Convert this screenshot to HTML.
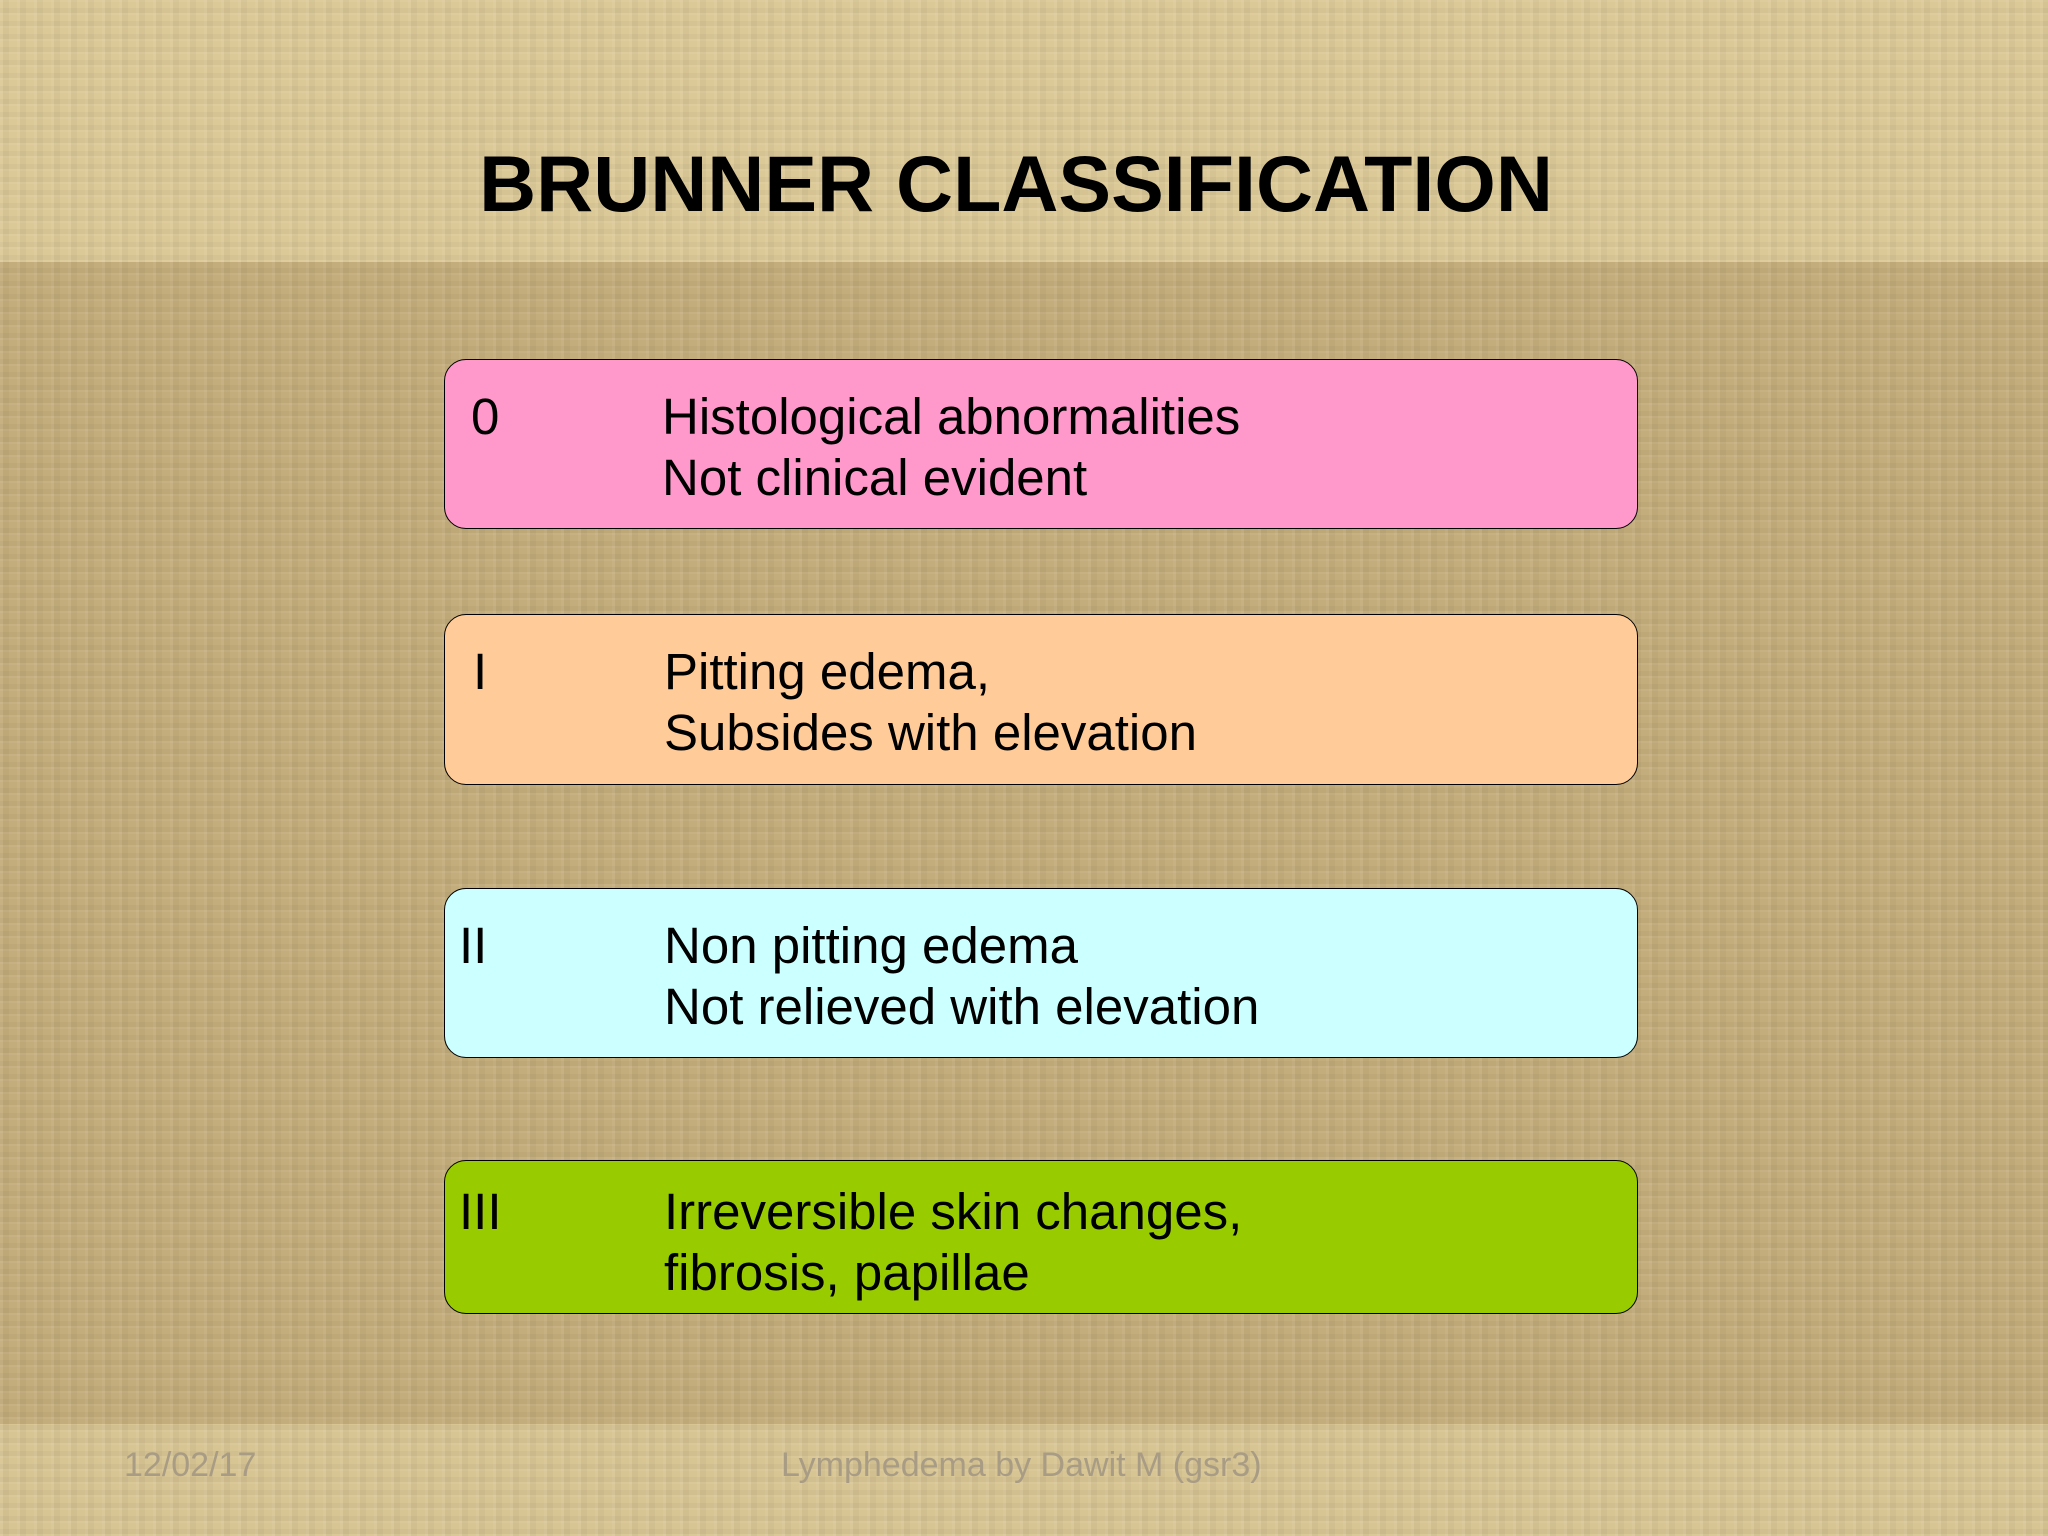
<!DOCTYPE html>
<html><head><meta charset="utf-8"><style>
html,body{margin:0;padding:0}
body{width:2048px;height:1536px;position:relative;overflow:hidden;font-family:"Liberation Sans",Arial,sans-serif;
background:#c4ad7c;}
.band{position:absolute;left:0;width:2048px}
.top{top:0;height:262px;background:#dcc998}
.bot{top:1424px;height:112px;background:#d8c594}
.tex{position:absolute;left:0;top:0;width:2048px;height:1536px;
background-image:repeating-linear-gradient(90deg,rgba(255,255,255,0.05) 0 3px,rgba(0,0,0,0.03) 3px 9px,rgba(255,255,255,0) 9px 17px),
repeating-linear-gradient(0deg,rgba(255,255,255,0.05) 0 2px,rgba(0,0,0,0.03) 2px 7px,rgba(255,255,255,0) 7px 13px);}
h1{position:absolute;left:0;width:2032px;text-align:center;top:134px;margin:0;font-size:79px;font-weight:bold;color:#000;line-height:100px}
.box{position:absolute;left:444px;width:1194px;border:1.5px solid #000;border-radius:22px;box-sizing:border-box}
.lab{position:absolute;font-size:51px;line-height:61px}
.desc{position:absolute;left:218px;font-size:51px;line-height:61px}
.f{position:absolute;top:1446px;font-size:34px;color:#a89c84}
</style></head><body>
<div class="band top"></div><div class="band bot"></div><div class="tex"></div>
<h1>BRUNNER CLASSIFICATION</h1>
<div class="box" style="top:359px;height:170px;background:#ff99cc">
 <div class="lab" style="left:26px;top:26px">0</div>
 <div class="desc" style="left:217px;top:26px">Histological abnormalities<br>Not clinical evident</div></div>
<div class="box" style="top:614px;height:171px;background:#ffcc99">
 <div class="lab" style="left:28px;top:26px">I</div>
 <div class="desc" style="left:219px;top:26px">Pitting edema,<br>Subsides with elevation</div></div>
<div class="box" style="top:888px;height:170px;background:#ccffff">
 <div class="lab" style="left:14px;top:26px">II</div>
 <div class="desc" style="left:219px;top:26px">Non pitting edema<br>Not relieved with elevation</div></div>
<div class="box" style="top:1160px;height:154px;background:#99cc00">
 <div class="lab" style="left:14px;top:20px">III</div>
 <div class="desc" style="left:219px;top:20px">Irreversible skin changes,<br>fibrosis, papillae</div></div>
<div class="f" style="left:124px">12/02/17</div>
<div class="f" style="left:781px">Lymphedema by Dawit M (gsr3)</div>
</body></html>
